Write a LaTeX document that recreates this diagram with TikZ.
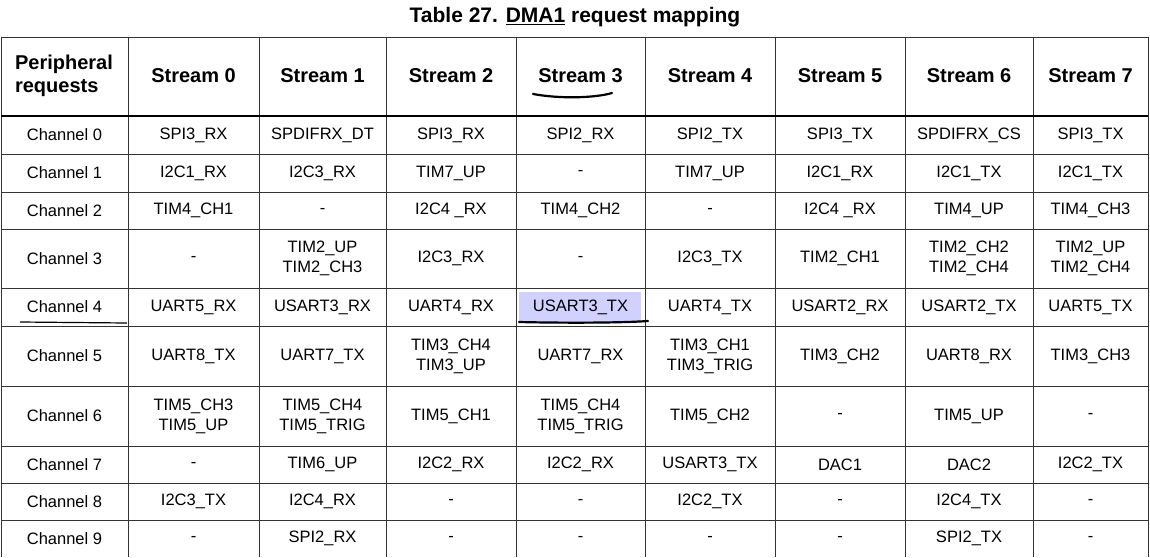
\documentclass[tikz,border=0pt]{standalone}
\usepackage{fontspec}
\setmainfont{Liberation Sans}
\begin{document}
\begin{tikzpicture}[x=1pt,y=-1pt,
  cell/.style={font=\fontsize{16.5}{20}\selectfont,align=center,inner sep=0pt},
  head/.style={font=\bfseries\fontsize{20}{23}\selectfont,align=center,inner sep=0pt},
  grid/.style={line width=0.9pt,black!80}]
\useasboundingbox (0,0) rectangle (1150,557);
\fill[white] (0,0) rectangle (1150,557);
\node[font=\bfseries\fontsize{21}{24}\selectfont] (title) at (575,17) {Table 27. \underline{DMA1} request mapping};
% highlight
\fill[blue!18] (519,292) rectangle (641,322);
\def\xs{{1,128,259,386,516,645,775,905,1033,1148}}
\def\ys{{37,116,154,192,229,288,326,386,446,483,520,557}}
% grid
\foreach \x in {1,128,259,386,516,645,775,905,1033,1148} \draw[grid] (\x,37) -- (\x,557);
\foreach \y in {37,154,192,229,288,326,386,446,483,520} \draw[grid] (1,\y) -- (1148,\y);
\draw[line width=2.6pt] (1,116) -- (1148,116);
% headers
\node[head,align=left] (h0) at (64,76) {Peripheral\\requests};
\foreach \t [count=\i from 0] in {Stream 0,Stream 1,Stream 2,Stream 3,Stream 4,Stream 5,Stream 6,Stream 7}{
  \pgfmathsetmacro\xa{\xs[\i+1]}\pgfmathsetmacro\xb{\xs[\i+2]}
  \node[head] (s\i) at ({(\xa+\xb)/2},76) {\t};}
% rows
\newcommand\tabrow[2]{%
  \foreach \t [count=\i from 0] in {#2}{
    \pgfmathsetmacro\xa{\xs[\i]}\pgfmathsetmacro\xb{\xs[\i+1]}
    \pgfmathsetmacro\ya{\ys[#1+1]}\pgfmathsetmacro\yb{\ys[#1+2]}
    \node[cell] (c#1-\i) at ({(\xa+\xb)/2},{(\ya+\yb)/2}) {\t};}}
\tabrow{0}{Channel 0,SPI3\_RX,SPDIFRX\_DT,SPI3\_RX,SPI2\_RX,SPI2\_TX,SPI3\_TX,SPDIFRX\_CS,SPI3\_TX}
\tabrow{1}{Channel 1,I2C1\_RX,I2C3\_RX,TIM7\_UP,-,TIM7\_UP,I2C1\_RX,I2C1\_TX,I2C1\_TX}
\tabrow{2}{Channel 2,TIM4\_CH1,-,I2C4 \_RX,TIM4\_CH2,-,I2C4 \_RX,TIM4\_UP,TIM4\_CH3}
\tabrow{3}{Channel 3,-,{TIM2\_UP\\TIM2\_CH3},I2C3\_RX,-,I2C3\_TX,TIM2\_CH1,{TIM2\_CH2\\TIM2\_CH4},{TIM2\_UP\\TIM2\_CH4}}
\tabrow{4}{Channel 4,UART5\_RX,USART3\_RX,UART4\_RX,USART3\_TX,UART4\_TX,USART2\_RX,USART2\_TX,UART5\_TX}
\tabrow{5}{Channel 5,UART8\_TX,UART7\_TX,{TIM3\_CH4\\TIM3\_UP},UART7\_RX,{TIM3\_CH1\\TIM3\_TRIG},TIM3\_CH2,UART8\_RX,TIM3\_CH3}
\tabrow{6}{Channel 6,{TIM5\_CH3\\TIM5\_UP},{TIM5\_CH4\\TIM5\_TRIG},TIM5\_CH1,{TIM5\_CH4\\TIM5\_TRIG},TIM5\_CH2,-,TIM5\_UP,-}
\tabrow{7}{Channel 7,-,TIM6\_UP,I2C2\_RX,I2C2\_RX,USART3\_TX,DAC1,DAC2,I2C2\_TX}
\tabrow{8}{Channel 8,I2C3\_TX,I2C4\_RX,-,-,I2C2\_TX,-,I2C4\_TX,-}
\tabrow{9}{Channel 9,-,SPI2\_RX,-,-,-,-,SPI2\_TX,-}
% hand-drawn marks
\draw[line width=2.2pt,line cap=round] (533,94) .. controls (560,99) and (595,98) .. (612,93);
\draw[line width=1.2pt] (20,322) -- (127,323);
\draw[line width=2.2pt,line cap=round] (519,322) .. controls (560,323) and (620,323) .. (648,321);
\end{tikzpicture}
\end{document}
